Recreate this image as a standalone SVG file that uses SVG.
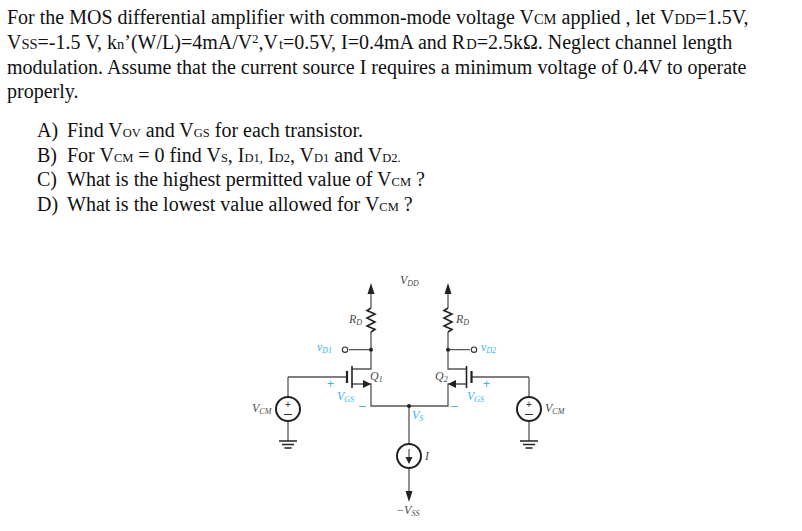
<svg xmlns="http://www.w3.org/2000/svg" width="802" height="531" viewBox="0 0 802 531">
<style>
.t{font-family:"Liberation Serif","Times New Roman",serif;font-size:20px;fill:#111}
.s{font-size:14.500px}
.s2{font-size:12.500px}
.w{fill:none;stroke:#555;stroke-width:1.300}
.r{fill:none;stroke:#222;stroke-width:1.600}
.p{fill:none;stroke:#222;stroke-width:2.200}
.src{fill:#fff;stroke:#222;stroke-width:2}
.a{fill:#222}
.o{fill:#fff;stroke:#333;stroke-width:1.100}
.lb{font-family:"Liberation Serif",serif;font-style:italic;font-size:12px;fill:#4a4a4a}
.lc{font-family:"Liberation Serif",serif;font-style:italic;font-size:12px;fill:#3ab4e8}
.sg{font-family:"Liberation Sans",sans-serif;font-size:12px;fill:#3ab4e8}
.sub{font-size:8px}
.pm{font-family:"Liberation Sans",sans-serif;font-size:10px;fill:#333}
</style>
<defs>
<g id="gnd"><path d="M-9 0H9M-6 3.500H6M-3.500 7H3.500" fill="none" stroke="#222" stroke-width="1.500"/></g>
<path id="res" d="M0 0L-4 2.500L4 6L-4 10L4 14L-4 18L4 21.500L0 24" fill="none" stroke="#222" stroke-width="1.600"/>
</defs>

<g id="problem-text" class="t">
<text x="7" y="24">For the MOS differential amplifier with common-mode voltage V<tspan class="s">CM</tspan> applied , let V<tspan class="s">DD</tspan>=1.5V,</text>
<text x="7" y="49">V<tspan class="s">SS</tspan>=-1.5 V, k<tspan class="s">n</tspan>’(W/L)=4mA/V<tspan class="s2" dy="-6">2</tspan><tspan dy="6">,V</tspan><tspan class="s" dx="1">t</tspan>=0.5V, I=0.4mA and R<tspan class="s" dx="1">D</tspan>=2.5kΩ. Neglect channel length</text>
<text x="7" y="74">modulation. Assume that the current source I requires a minimum voltage of 0.4V to operate</text>
<text x="7" y="98">properly.</text>
<text x="37" y="137">A)</text><text x="67" y="137">Find V<tspan class="s2">OV</tspan> and V<tspan class="s2">GS</tspan> for each transistor.</text>
<text x="37" y="162">B)</text><text x="67" y="162">For V<tspan class="s2">CM</tspan> = 0 find V<tspan class="s2">S</tspan>, I<tspan class="s2">D1</tspan><tspan class="s2">,</tspan> I<tspan class="s2">D2</tspan>, V<tspan class="s2">D1</tspan> and V<tspan class="s2">D2</tspan><tspan class="s2">.</tspan></text>
<text x="37" y="186">C)</text><text x="67" y="186">What is the highest permitted value of V<tspan class="s2">CM</tspan> ?</text>
<text x="37" y="211">D)</text><text x="67" y="211">What is the lowest value allowed for V<tspan class="s2">CM</tspan> ?</text>
</g>

<g id="connectors">
<path class="w" d="M371 290V308M371 332V369H352M352 384H371V406H448V384H466M448 290V308M448 332V369H466M371 349.700H349M448 349.700H470M409 406V444M409 468V495M288 377H347M288 377V397M288 421V441M529 377H472M529 377V397M529 421V441"/>
<polygon class="a" points="371,283 367.500,294 374.500,294"/>
<polygon class="a" points="448,283 444.500,294 451.500,294"/>
<polygon class="a" points="409,502 405.500,491 412.500,491"/>
<polygon class="a" points="371,384 363,380 363,388"/>
<polygon class="a" points="448,384 456,380 456,388"/>
<circle class="a" cx="371" cy="349.700" r="2"/>
<circle class="a" cx="448" cy="349.700" r="2"/>
<circle class="a" cx="409" cy="406" r="2"/>
</g>

<g id="RD1"><use href="#res" x="371" y="308"/><text class="lb" x="349" y="323">R<tspan class="sub" dy="2">D</tspan></text></g>
<g id="RD2"><use href="#res" x="448" y="308"/><text class="lb" x="456" y="323">R<tspan class="sub" dy="2">D</tspan></text></g>
<g id="VDD"><text class="lb" x="400" y="284">V<tspan class="sub" dy="2">DD</tspan></text></g>
<g id="vD1"><circle class="o" cx="345" cy="349.700" r="2.700"/><text class="lc" x="317" y="351">v<tspan class="sub" dy="2">D1</tspan></text></g>
<g id="vD2"><circle class="o" cx="474" cy="349.700" r="2.700"/><text class="lc" x="481" y="351">v<tspan class="sub" dy="2">D2</tspan></text></g>
<g id="Q1">
<path class="r" d="M352 366V388"/><path class="p" d="M347 371V383"/>
<text class="lb" x="370" y="380">Q<tspan class="sub" dy="2">1</tspan></text>
<text class="sg" x="327" y="388">+</text>
<text class="lc" x="337" y="400">V<tspan class="sub" dy="2">GS</tspan></text>
<text class="sg" x="359" y="410">–</text>
</g>
<g id="Q2">
<path class="r" d="M466.500 366V388"/><path class="p" d="M471.500 371V383"/>
<text class="lb" x="435" y="380">Q<tspan class="sub" dy="2">2</tspan></text>
<text class="sg" x="483" y="388">+</text>
<text class="lc" x="467" y="400">V<tspan class="sub" dy="2">GS</tspan></text>
<text class="sg" x="451" y="410">–</text>
</g>
<g id="VCM1">
<circle class="src" cx="288" cy="409" r="12"/>
<text class="pm" x="288" y="408" text-anchor="middle">+</text><path d="M284 414.500H292" stroke="#333" stroke-width="1"/>
<text class="lb" x="252" y="412">V<tspan class="sub" dy="2">CM</tspan></text>
<use href="#gnd" x="288" y="441"/>
</g>
<g id="VCM2">
<circle class="src" cx="529" cy="409" r="12"/>
<text class="pm" x="529" y="408" text-anchor="middle">+</text><path d="M525 414.500H533" stroke="#333" stroke-width="1"/>
<text class="lb" x="545" y="412">V<tspan class="sub" dy="2">CM</tspan></text>
<use href="#gnd" x="529" y="441"/>
</g>
<g id="Vs"><text class="lc" x="412" y="419">V<tspan class="sub" dy="2">S</tspan></text></g>
<g id="I">
<circle class="src" cx="409" cy="456" r="12"/>
<path d="M409 449V462" stroke="#333" stroke-width="1"/><polygon class="a" points="409,464 405.500,457 412.500,457"/>
<text class="lb" x="425" y="460">I</text>
</g>
<g id="VSS"><text class="lb" x="396" y="514">−V<tspan class="sub" dy="2">SS</tspan></text></g>
</svg>
